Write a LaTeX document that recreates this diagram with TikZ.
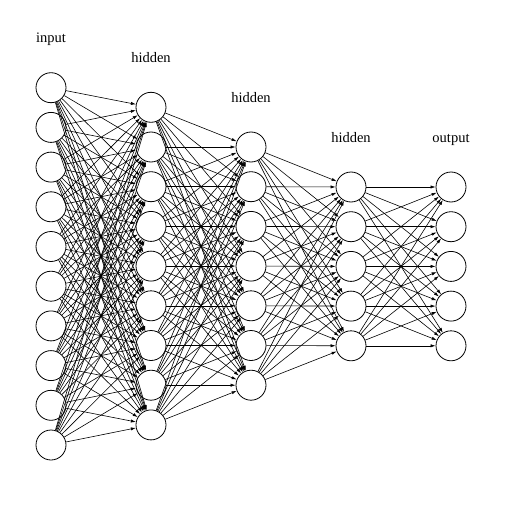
\documentclass[tikz,border=0pt]{standalone}
\usepackage{fontspec}
\setmainfont{Liberation Serif}
\usetikzlibrary{arrows.meta}
\begin{document}
\begin{tikzpicture}[x=1pt,y=-1pt,
  neuron/.style={circle,draw,fill=white,minimum size=30pt,inner sep=0pt,line width=0.8pt},
  lbl/.style={font=\fontsize{14.5}{16}\selectfont,inner sep=0pt,anchor=base},
  conn/.style={-{Latex[length=5pt,width=3.2pt]},line width=0.6pt}]
\useasboundingbox (0,0) rectangle (516,516);
\foreach \i in {1,...,10} \node[neuron] (a\i) at (51,{87.7+39.7*(\i-1)}) {};
\foreach \i in {1,...,9} \node[neuron] (b\i) at (151,{107.3+39.7*(\i-1)}) {};
\foreach \i in {1,...,7} \node[neuron] (c\i) at (251,{147+39.7*(\i-1)}) {};
\foreach \i in {1,...,5} \node[neuron] (d\i) at (351,{187+39.7*(\i-1)}) {};
\foreach \i in {1,...,5} \node[neuron] (e\i) at (451,{187+39.7*(\i-1)}) {};
\foreach \i in {1,...,10} \foreach \j in {1,...,9} \draw[conn] (a\i) -- (b\j);
\foreach \i in {1,...,9} \foreach \j in {1,...,7} \draw[conn] (b\i) -- (c\j);
\foreach \i in {1,...,7} \foreach \j in {1,...,5} \draw[conn] (c\i) -- (d\j);
\foreach \i in {1,...,5} \foreach \j in {1,...,5} \draw[conn] (d\i) -- (e\j);
\node[lbl] (l1) at (51,43) {input};
\node[lbl] (l2) at (151,63) {hidden};
\node[lbl] (l3) at (251,102.5) {hidden};
\node[lbl] (l4) at (351,142) {hidden};
\node[lbl] (l5) at (451,142) {output};
\end{tikzpicture}
\end{document}
